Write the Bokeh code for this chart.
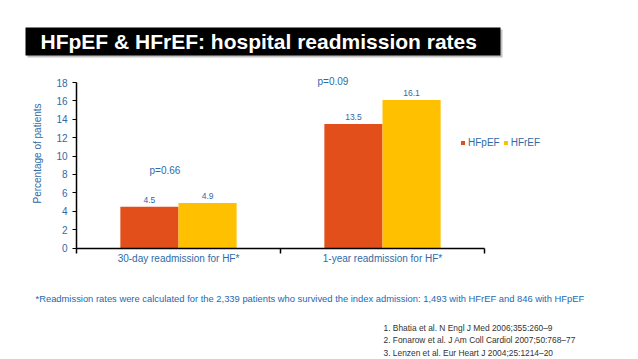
import numpy as np
from bokeh.plotting import figure
from bokeh.models import (ColumnDataSource, FixedTicker, Label, LabelSet, Legend,
                          LegendItem, BoxAnnotation, Range1d)
from bokeh.core.properties import value
from bokeh.embed import file_html
from bokeh.resources import INLINE

# ---- data ----
categories = ["30-day readmission for HF*", "1-year readmission for HF*"]
series = ["HFpEF", "HFrEF"]
hfpef = [4.5, 13.5]
hfref = [4.9, 16.1]
y_ticks = [0, 2, 4, 6, 8, 10, 12, 14, 16, 18]
p_values = ["p=0.66", "p=0.09"]
title_text = "HFpEF & HFrEF: hospital readmission rates"
y_title = "Percentage of patients"
footnote = ("*Readmission rates were calculated for the 2,339 patients who survived the "
            "index admission: 1,493 with HFrEF and 846 with HFpEF")
references = [
    "1.  Bhatia et al. N Engl J Med 2006;355:260\u20139",
    "2.  Fonarow et al. J Am Coll Cardiol 2007;50:768\u201377",
    "3.  Lenzen et al. Eur Heart J 2004;25:1214\u201320",
]

# ---- style / layout ----
FONT = "Liberation Sans"
BLUE = "#2F6AA6"
FOOT_BLUE = "#2468B0"
C_PE = "#E24F1A"
C_RE = "#FFC000"

W, H = 638, 359
# chart area in canvas pixels: x 0 -> 76px, x 2 -> 484px ; y 0 -> 247.5px, y 18 -> 82px
AX_L, AX_R, AX_B, AX_T = 76.0, 484.0, 247.5, 82.0
YMAX = 18
NCAT = len(categories)
kx = (AX_R - AX_L) / NCAT
ky = (AX_B - AX_T) / YMAX
x_range = Range1d(-AX_L / kx, (W - AX_L) / kx)
y_range = Range1d(-(H - AX_B) / ky, AX_B / ky)


def sy(py):
    return H - py


p = figure(width=W, height=H, x_range=x_range, y_range=y_range,
           output_backend="svg", toolbar_location=None, title=None,
           min_border=0, min_border_left=0, min_border_right=0,
           min_border_top=0, min_border_bottom=0)
p.outline_line_color = None
p.xgrid.visible = False
p.ygrid.visible = False
p.background_fill_color = "white"
p.border_fill_color = "white"

centers = np.arange(NCAT) + 0.5
off = 0.1425
bw = 0.285
src = ColumnDataSource(dict(
    x_pe=centers - off, x_re=centers + off,
    pe=hfpef, re=hfref,
    pe_txt=[f"{v:.1f}" for v in hfpef], re_txt=[f"{v:.1f}" for v in hfref],
))

r_pe = p.vbar(x="x_pe", top="pe", width=bw, source=src, fill_color=C_PE, line_color=None)
r_re = p.vbar(x="x_re", top="re", width=bw, source=src, fill_color=C_RE, line_color=None)

for xcol, ycol, tcol in (("x_pe", "pe", "pe_txt"), ("x_re", "re", "re_txt")):
    p.add_layout(LabelSet(x=xcol, y=ycol, text=tcol, source=src, text_align="center",
                          text_baseline="bottom", y_offset=4, text_font=value(FONT),
                          text_font_size=value("8.5px"), text_color=BLUE))

# axes (fixed at the data origin, limited to the data extent)
xa = p.xaxis[0]
xa.fixed_location = 0
xa.bounds = (0, NCAT)
xa.ticker = FixedTicker(ticks=list(centers), minor_ticks=list(np.arange(NCAT + 1)))
xa.major_label_overrides = {float(c): lab for c, lab in zip(centers, categories)}
xa.major_tick_line_color = None
xa.major_tick_out = 0
xa.major_tick_in = 0
xa.minor_tick_out = 5
xa.minor_tick_in = 0
xa.minor_tick_line_color = "black"
xa.minor_tick_line_width = 1.5
xa.axis_line_color = "black"
xa.axis_line_width = 1.5
xa.major_label_standoff = 0
xa.major_label_text_font = FONT
xa.major_label_text_font_size = "10px"
xa.major_label_text_color = BLUE

ya = p.yaxis[0]
ya.fixed_location = 0
ya.bounds = (0, YMAX)
ya.ticker = FixedTicker(ticks=y_ticks, minor_ticks=[])
ya.major_tick_out = 4
ya.major_tick_in = 0
ya.major_tick_line_color = "black"
ya.major_tick_line_width = 1.2
ya.axis_line_color = "black"
ya.axis_line_width = 1.5
ya.major_label_standoff = 5
ya.major_label_text_font = FONT
ya.major_label_text_font_size = "10px"
ya.major_label_text_color = BLUE

# legend
legend = Legend(items=[LegendItem(label=series[0], renderers=[r_pe]),
                       LegendItem(label=series[1], renderers=[r_re])],
                orientation="horizontal", location=(460, sy(143) - 5),
                glyph_width=5, glyph_height=5, label_standoff=3, spacing=3,
                padding=0, margin=0, label_height=10,
                label_text_font=FONT, label_text_font_size="10px",
                label_text_color=BLUE, background_fill_alpha=0,
                border_line_color=None)
p.add_layout(legend, "center")

# p-values
for txt, (px, py) in zip(p_values, [(149, 170), (317, 81)]):
    p.add_layout(Label(x=px, y=sy(py), x_units="screen", y_units="screen", text=txt,
                       text_baseline="middle", text_font=FONT, text_font_size="10px",
                       text_color=BLUE))

# y title
p.add_layout(Label(x=37, y=sy(153), x_units="screen", y_units="screen", text=y_title,
                   angle=np.pi / 2, text_align="center", text_baseline="middle",
                   text_font=FONT, text_font_size="10px", text_color=BLUE))

# title box with a soft shadow
p.add_layout(BoxAnnotation(left=27, right=502, top=sy(29), bottom=sy(57),
                           left_units="screen", right_units="screen", top_units="screen",
                           bottom_units="screen", fill_color="#9a9a9a", fill_alpha=0.6,
                           line_color=None))
p.add_layout(BoxAnnotation(left=25, right=500, top=sy(27), bottom=sy(55),
                           left_units="screen", right_units="screen", top_units="screen",
                           bottom_units="screen", fill_color="black", fill_alpha=1,
                           line_color=None))
p.add_layout(Label(x=40, y=sy(41), x_units="screen", y_units="screen", text=title_text,
                   text_baseline="middle", text_font=FONT, text_font_size="21px",
                   text_font_style="bold", text_color="white"))

# footnote
p.add_layout(Label(x=35, y=sy(298), x_units="screen", y_units="screen", text=footnote,
                   text_baseline="middle", text_font=FONT, text_font_size="9.4px",
                   text_color=FOOT_BLUE))

for i, ref in enumerate(references):
    p.add_layout(Label(x=383, y=sy(327 + 12.5 * i), x_units="screen", y_units="screen",
                       text=ref, text_baseline="middle", text_font=FONT,
                       text_font_size="8.4px", text_color="#333333"))

open("out.html", "w").write(file_html(p, INLINE))
